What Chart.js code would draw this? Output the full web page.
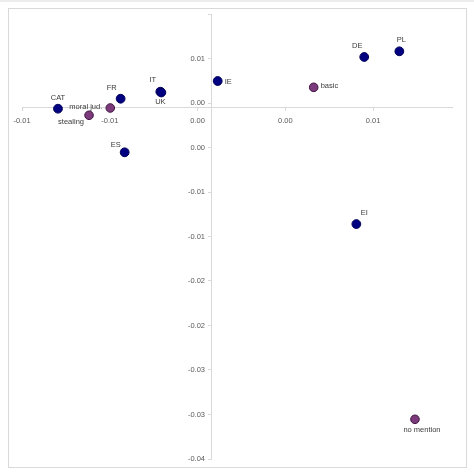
<!DOCTYPE html>
<html>
<head>
<meta charset="utf-8">
<script src="https://cdn.jsdelivr.net/npm/chart.js@4.4.1/dist/chart.umd.min.js"></script>
<style>
body { margin: 0; background: #fff; }
#wrap { position: relative; width: 474px; height: 474px; }
#topband { position: absolute; left: 0; top: 0; width: 474px; height: 2px; background: #ececec; }
#frame { position: absolute; left: 8px; top: 8px; width: 457px; height: 458px; border: 1px solid #d9d9d9; }
canvas { position: absolute; left: 0; top: 0; }
</style>
</head>
<body>
<div id="wrap">
  <div id="topband"></div>
  <div id="frame"></div>
  <canvas id="scatterChart" width="474" height="474"></canvas>
</div>
<script>
// Countries (dark blue points)
const countryNames = ['CAT', 'FR', 'IT', 'UK', 'ES', 'IE', 'DE', 'PL', 'EI'];
const countryX = [-0.01295, -0.00938, -0.00712, -0.00706, -0.00915, -0.00385, 0.00450, 0.00650, 0.00405];
const countryY = [0.00436, 0.00548, 0.00627, 0.00618, -0.00054, 0.00747, 0.01017, 0.01081, -0.00860];

// Categories (purple points)
const categoryNames = ['moral jud.', 'stealing', 'basic', 'no mention'];
const categoryX = [-0.00997, -0.01118, 0.00162, 0.00739];
const categoryY = [0.00444, 0.00362, 0.00676, -0.03054];

// Tick labels as printed on the axes
const xTickValues = [-0.015, -0.010, -0.005, 0.000, 0.005];
const xTickLabels = ['-0.01', '-0.01', '0.00', '0.00', '0.01'];
const yTickValues = [0.015, 0.010, 0.005, 0.000, -0.005, -0.010, -0.015, -0.020, -0.025, -0.030, -0.035];
const yTickLabels = ['', '0.01', '0.00', '0.00', '-0.01', '-0.01', '-0.02', '-0.02', '-0.03', '-0.03', '-0.04'];

// where the axes cross each other
const xAxisCrossY = 0.00444;
const yAxisCrossX = -0.00423;

// label placement next to each point: [dx, dy, align]
const labelPlacement = {
    'CAT': [0, -11, 'center'],
    'FR': [-9, -11, 'center'],
    'IT': [-7.5, -12, 'center'],
    'UK': [-1, 9, 'center'],
    'ES': [-9, -7, 'center'],
    'IE': [7, 1, 'left'],
    'DE': [-7, -11, 'center'],
    'PL': [2, -11, 'center'],
    'EI': [8, -11, 'center'],
    'moral jud.': [-8, -1, 'right'],
    'stealing': [-18, 7, 'center'],
    'basic': [7, -1.5, 'left'],
    'no mention': [7, 11, 'center']
};

function toPoints(xs, ys) {
    return xs.map((x, i) => ({ x: x, y: ys[i] }));
}

function lookupLabel(values, labels, value) {
    for (let i = 0; i < values.length; i++) {
        if (Math.abs(values[i] - value) < 1e-9) return labels[i];
    }
    return '';
}

// Writing the name next to every point
const pointNames = {
    id: 'pointNames',
    afterDatasetsDraw(chart) {
        const { ctx } = chart;
        chart.data.datasets.forEach((ds, d) => {
            const names = ds.names;
            chart.getDatasetMeta(d).data.forEach((pt, i) => {
                const place = labelPlacement[names[i]];
                ctx.save();
                ctx.font = '7.5px "Liberation Sans", Arial, sans-serif';
                ctx.fillStyle = '#3a3a3a';
                ctx.textAlign = place[2];
                ctx.textBaseline = 'middle';
                ctx.fillText(names[i], pt.x + place[0], pt.y + place[1]);
                ctx.restore();
            });
        });
    }
};

// The y labels of a crossing axis sit right on the line, push them left a bit
const yLabelGap = {
    id: 'yLabelGap',
    beforeDraw(chart) {
        chart.scales.y.getLabelItems().forEach(item => {
            item.options.translation[0] -= 6;
        });
    }
};

// The crossing axes must not take room from the plot
function noRoom(scale) {
    if (scale.isHorizontal()) scale.height = 0;
    else scale.width = 0;
    scale.paddingLeft = 0;
    scale.paddingRight = 0;
    scale.paddingTop = 0;
    scale.paddingBottom = 0;
}

const tickFont = { family: '"Liberation Sans", Arial, sans-serif', size: 7.5 };

const scatterConfig = {
    type: 'scatter',
    data: {
        datasets: [{
            names: countryNames,
            data: toPoints(countryX, countryY),
            backgroundColor: '#000080',
            borderColor: '#00005a',
            borderWidth: 1,
            pointRadius: 4.4,
            pointHoverRadius: 4.4
        }, {
            names: categoryNames,
            data: toPoints(categoryX, categoryY),
            backgroundColor: '#7b3a7b',
            borderColor: '#3f1340',
            borderWidth: 1,
            pointRadius: 4.3,
            pointHoverRadius: 4.3
        }]
    },
    options: {
        responsive: false,
        animation: false,
        layout: { padding: { left: 22, right: 22, top: 14, bottom: 15 } },
        plugins: {
            legend: { display: false },
            tooltip: { enabled: false }
        },
        scales: {
            x: {
                type: 'linear',
                min: -0.015,
                max: 0.0095,
                position: { y: xAxisCrossY },
                afterFit: noRoom,
                grid: { drawOnChartArea: false, color: '#d9d9d9', tickLength: 3 },
                border: { display: true, color: '#d9d9d9', width: 1 },
                ticks: {
                    stepSize: 0.005,
                    includeBounds: false,
                    maxRotation: 0,
                    autoSkip: false,
                    padding: 5,
                    color: '#595959',
                    font: tickFont,
                    callback: v => lookupLabel(xTickValues, xTickLabels, v)
                }
            },
            y: {
                type: 'linear',
                min: -0.035,
                max: 0.015,
                position: { x: yAxisCrossX },
                afterFit: noRoom,
                grid: { drawOnChartArea: false, color: '#d9d9d9', tickLength: 3 },
                border: { display: true, color: '#d9d9d9', width: 1 },
                ticks: {
                    stepSize: 0.005,
                    autoSkip: false,
                    padding: 4,
                    color: '#595959',
                    font: tickFont,
                    callback: v => lookupLabel(yTickValues, yTickLabels, v)
                }
            }
        }
    },
    plugins: [pointNames, yLabelGap]
};

let scatterChart = new Chart(document.getElementById('scatterChart'), scatterConfig);
</script>
</body>
</html>
